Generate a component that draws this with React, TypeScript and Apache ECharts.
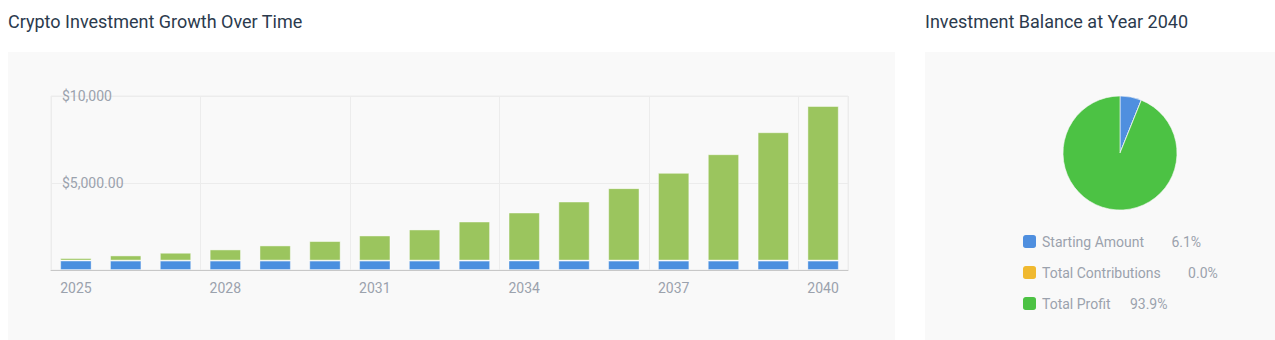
import React, { useEffect, useRef } from "react";
import * as echarts from "echarts";

// Years on the growth chart
const years = ["2025", "2026", "2027", "2028", "2029", "2030", "2031", "2032", "2033", "2034", "2035", "2036", "2037", "2038", "2039", "2040"];
// Starting amount held in each year
const startingAmount = [540, 540, 540, 540, 540, 540, 540, 540, 540, 540, 540, 540, 540, 540, 540, 540];
// Total balance at each year
const totalBalance = [690, 838, 993, 1182, 1412, 1664, 1985, 2330, 2788, 3305, 3936, 4705, 5583, 6655, 7918, 9426];
// Profit on top of the starting amount
const profit = totalBalance.map((t, i) => t - startingAmount[i]);

// Balance split at the final year (percent)
const pieNames = ["Starting Amount", "Total Contributions", "Total Profit"];
const pieShares = [6.1, 0.0, 93.9];
const pieColors = ["#4f8fdf", "#f0b930", "#4cc244"];

const FONT = "Roboto, 'Noto Sans', sans-serif";
const GRAY = "#9ba2ad";

export default function App() {
  const ref = useRef<HTMLDivElement>(null);

  useEffect(() => {
    if (!ref.current) return;
    const chart = echarts.init(ref.current, null, { renderer: "svg" });
    chart.setOption({
      animation: false,
      textStyle: { fontFamily: FONT },
      title: [
        {
          text: "Crypto Investment Growth Over Time",
          left: 8,
          top: 12,
          padding: 0,
          textStyle: { fontFamily: FONT, fontSize: 18, fontWeight: "normal", color: "#2b3a4d" },
        },
        {
          text: "Investment Balance at Year 2040",
          left: 925,
          top: 12,
          padding: 0,
          textStyle: { fontFamily: FONT, fontSize: 18, fontWeight: "normal", color: "#2b3a4d" },
        },
      ],
      graphic: [
        { type: "rect", silent: true, z: -10, shape: { x: 8, y: 52, width: 887, height: 300 }, style: { fill: "#f9f9f9" } },
        { type: "rect", silent: true, z: -10, shape: { x: 925, y: 52, width: 350, height: 300 }, style: { fill: "#f9f9f9" } },
      ],
      grid: {
        left: 51,
        right: 427,
        top: 96,
        bottom: 70,
        show: true,
        borderColor: "#ececec",
        borderWidth: 1,
        backgroundColor: "transparent",
      },
      xAxis: {
        type: "category",
        data: years,
        axisLine: { show: true, lineStyle: { color: "#c8c8c8" } },
        axisTick: { show: false },
        axisLabel: { interval: 2, color: GRAY, fontSize: 14, margin: 11, fontFamily: FONT },
        splitLine: { show: true, interval: 2, lineStyle: { color: "#ececec" } },
      },
      yAxis: {
        type: "value",
        min: 0,
        max: 10000,
        interval: 5000,
        axisLine: { show: false },
        axisTick: { show: false },
        axisLabel: {
          inside: true,
          margin: 11,
          color: GRAY,
          fontSize: 14,
          fontFamily: FONT,
          verticalAlign: "middle",
          formatter: (v: number) => (v === 0 ? "" : v === 10000 ? "$10,000" : "$" + v.toLocaleString("en-US", { minimumFractionDigits: 2 })),
        },
        splitLine: { lineStyle: { color: "#ececec" } },
      },
      legend: {
        orient: "vertical",
        left: 1021,
        top: 233,
        padding: 0,
        itemWidth: 15,
        itemHeight: 15,
        itemGap: 14,
        icon: "roundRect",
        data: pieNames,
        textStyle: {
          color: GRAY,
          fontSize: 14,
          fontFamily: FONT,
          rich: {
            n: { color: GRAY, fontSize: 14, fontFamily: FONT },
            p: { color: GRAY, fontSize: 14, fontFamily: FONT, width: 57, align: "right" },
          },
        },
        formatter: (name: string) => {
          const i = pieNames.indexOf(name);
          return `{n|${name}}{p|${pieShares[i].toFixed(1)}%}`;
        },
      },
      series: [
        {
          name: "Starting",
          type: "bar",
          stack: "total",
          barWidth: "63%",
          data: startingAmount,
          itemStyle: { color: "#4a8fdf", borderColor: "rgba(255,255,255,0.35)", borderWidth: 1 },
        },
        {
          name: "Profit",
          type: "bar",
          stack: "total",
          barWidth: "63%",
          data: profit,
          itemStyle: { color: "#9bc55e", borderColor: "rgba(255,255,255,0.45)", borderWidth: 1 },
        },
        {
          type: "pie",
          center: [1120, 153],
          radius: 57,
          startAngle: 90,
          clockwise: true,
          label: { show: false },
          labelLine: { show: false },
          itemStyle: { borderColor: "#f9f9f9", borderWidth: 0.6 },
          data: pieNames.map((n, i) => ({ name: n, value: pieShares[i], itemStyle: { color: pieColors[i] } })),
        },
      ],
    });
    return () => chart.dispose();
  }, []);

  return (
    <div
      ref={ref}
      style={{ position: "fixed", left: 0, top: 0, width: 1275, height: 340, background: "#ffffff" }}
    />
  );
}
